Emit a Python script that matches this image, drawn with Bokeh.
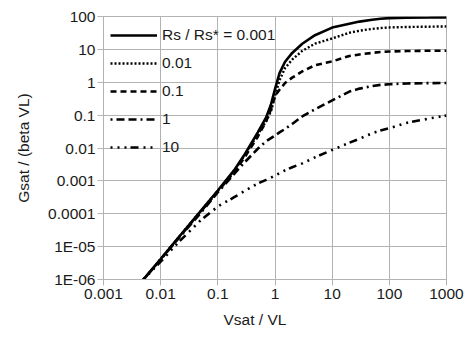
from bokeh.plotting import figure
from bokeh.models import FixedTicker, Legend, LegendItem, Title
from bokeh.embed import file_html
from bokeh.resources import INLINE

# ---- data ----
x_vals = [0.005, 0.01, 0.02, 0.05, 0.1, 0.2, 0.3, 0.5, 0.7, 0.85, 1.0, 1.2, 1.5, 2, 3, 5,
          10, 20, 30, 50, 70, 100, 200, 500, 1000]

g_0001 = [1e-6, 4.2e-6, 1.8e-5, 1.2e-4, 5.1e-4, 2.3e-3, 6.7e-3, 0.030, 0.085, 0.21, 0.62,
          1.9, 4.2, 7.8, 14.8, 27, 46, 60, 70, 80, 85, 89, 92, 93, 94]
g_001 = [1e-6, 4.2e-6, 1.8e-5, 1.2e-4, 5.0e-4, 2.2e-3, 6.3e-3, 0.026, 0.065, 0.13, 0.38,
         1.15, 2.7, 4.9, 9.0, 14.9, 21.5, 32, 37, 42, 44.5, 46.5, 48, 49, 50]
g_01 = [1e-6, 4.1e-6, 1.75e-5, 1.15e-4, 4.8e-4, 2.0e-3, 5.5e-3, 0.022, 0.065, 0.15, 0.39,
        0.59, 0.95, 1.38, 2.13, 3.3, 4.3, 6.3, 7.0, 7.8, 8.3, 8.6, 8.9, 9.1, 9.1]
g_1 = [1e-6, 4.1e-6, 1.7e-5, 1.05e-4, 4.5e-4, 1.75e-3, 3.8e-3, 9.5e-3, 0.016, 0.020, 0.024,
       0.030, 0.038, 0.054, 0.091, 0.15, 0.28, 0.52, 0.64, 0.77, 0.83, 0.87, 0.92, 0.94, 0.95]
g_10 = [1e-6, 3.5e-6, 1.3e-5, 6.3e-5, 1.66e-4, 3.3e-4, 5.0e-4, 8.3e-4, 1.07e-3, 1.25e-3, 1.45e-3,
        1.7e-3, 2.1e-3, 2.6e-3, 3.4e-3, 5.2e-3, 8.7e-3, 0.0145, 0.019, 0.028, 0.034, 0.040,
        0.058, 0.079, 0.097]

series_labels = ["Rs / Rs* = 0.001", "0.01", "0.1", "1", "10"]

x_ticks = [0.001, 0.01, 0.1, 1, 10, 100, 1000]
x_tick_labels = ["0.001", "0.01", "0.1", "1", "10", "100", "1000"]
y_ticks = [1e-6, 1e-5, 1e-4, 1e-3, 1e-2, 1e-1, 1, 10, 100]
y_tick_labels = ["1E-06", "1E-05", "0.0001", "0.001", "0.01", "0.1", "1", "10", "100"]

x_title = "Vsat / VL"
y_title = "Gsat / (beta VL)"

FONT = "Liberation Sans"
FS = "15.5px"
GRID = "#b3b3b3"
TXT = "#1a1a1a"

p = figure(width=474, height=350, x_axis_type="log", y_axis_type="log",
           x_range=(0.001, 1000), y_range=(1e-6, 100),
           output_backend="svg", toolbar_location=None,
           min_border_left=103, min_border_right=28, min_border_top=16, min_border_bottom=71)
p.background_fill_color = "white"
p.border_fill_color = "white"
p.outline_line_color = GRID

p.xaxis.ticker = FixedTicker(ticks=x_ticks)
p.yaxis.ticker = FixedTicker(ticks=y_ticks)
p.xaxis.major_label_overrides = {t: l for t, l in zip(x_ticks, x_tick_labels)}
p.yaxis.major_label_overrides = {t: l for t, l in zip(y_ticks, y_tick_labels)}

for ax in (p.xaxis, p.yaxis):
    ax.axis_line_color = GRID
    ax.major_tick_line_color = GRID
    ax.major_tick_out = 6
    ax.major_tick_in = 0
    ax.minor_tick_line_color = None
    ax.major_label_text_font = FONT
    ax.major_label_text_font_size = FS
    ax.major_label_text_color = TXT
    ax.axis_label_text_font = FONT
    ax.axis_label_text_font_size = FS
    ax.axis_label_text_font_style = "normal"
    ax.axis_label_text_color = TXT

p.xaxis.major_label_standoff = 3
p.yaxis.major_label_standoff = 2
p.yaxis.axis_label = y_title
p.yaxis.axis_label_standoff = 13

p.xgrid.grid_line_color = GRID
p.ygrid.grid_line_color = GRID

styles = [
    dict(line_dash="solid", line_width=2.6),
    dict(line_dash="2 2", line_width=2.4),
    dict(line_dash="6 4", line_width=2.6),
    dict(line_dash="2 4 8 4 8 4", line_width=2.6),
    dict(line_dash="2 5 2 5 2 4 8 5", line_width=2.6),
]
items = []
for ys, lab, st in zip([g_0001, g_001, g_01, g_1, g_10], series_labels, styles):
    r = p.line(x_vals, ys, line_color="black", **st)
    items.append(LegendItem(label=lab, renderers=[r]))

legend = Legend(items=items, location=(7, 122), background_fill_alpha=0,
                border_line_color=None, glyph_width=47, glyph_height=20,
                label_height=20, spacing=8, padding=0, margin=0, label_standoff=5,
                label_text_font=FONT, label_text_font_size=FS, label_text_color=TXT)
p.add_layout(legend, "center")

# x-axis title as a title panel below the axis, offset left as in the reference
xt = Title(text=x_title, align="left", offset=120, standoff=15,
           text_font=FONT, text_font_size=FS, text_font_style="normal", text_color=TXT)
p.add_layout(xt, "below")

open("out.html", "w").write(file_html(p, INLINE))
